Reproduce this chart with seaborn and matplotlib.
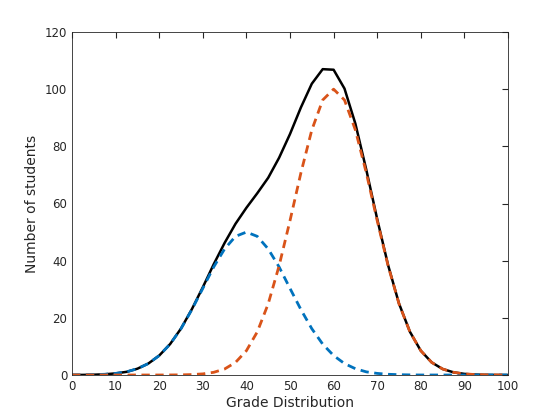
import numpy as np
import pandas as pd
import seaborn as sns
import matplotlib
matplotlib.use("Agg")
import matplotlib.pyplot as plt

grades = [i * 2.5 for i in range(41)]
group_a = [0.02, 0.04, 0.11, 0.25, 0.56, 1.1, 2.2, 4.0, 6.8, 10.8, 16.2, 22.9, 30.3, 37.8, 44.1, 48.5,
           50, 48.5, 44.1, 37.8, 30.3, 22.9, 16.2, 10.8, 6.8, 4.0, 2.2, 1.1, 0.56, 0.25, 0.11, 0.04,
           0, 0, 0, 0, 0, 0, 0, 0, 0]
group_b = [0, 0, 0, 0, 0, 0, 0, 0, 0, 0.015, 0.05, 0.15, 0.39, 0.94, 2.1, 4.4, 8.5, 15.1, 24.9, 38.2, 54.0,
           70.7, 85.7, 96.2, 100, 96.2, 85.7, 70.7, 54.0, 38.2, 24.9, 15.1, 8.5, 4.4, 2.1, 0.94, 0.39,
           0.15, 0.05, 0.015, 0]

df = pd.DataFrame({"x": grades, "a": group_a, "b": group_b})
df["total"] = df["a"] + df["b"]

sns.set_style("white")
plt.rcParams['font.family'] = ['DejaVu Sans']
fig = plt.figure(figsize=(5.6, 4.2), dpi=100)
ax = fig.add_axes([72/560, 45/420, 436/560, 343/420])
kw = dict(solid_joinstyle="round", dash_joinstyle="round", antialiased=True)
sns.lineplot(data=df, x="x", y="total", color="black", lw=1.8, ax=ax, **kw)
sns.lineplot(data=df, x="x", y="a", color="#0072BD", lw=2.0, ls=(0, (3, 2)), ax=ax, **kw)
sns.lineplot(data=df, x="x", y="b", color="#D95319", lw=2.0, ls=(0, (3, 2)), ax=ax, **kw)
ax.set_xlim(0, 100)
ax.set_ylim(0, 120)
ax.set_xticks(range(0, 101, 10))
ax.set_yticks(range(0, 121, 20))
ax.set_xlabel("Grade Distribution", fontsize=10, labelpad=2)
ax.set_ylabel("Number of students", fontsize=10)
ax.tick_params(direction="in", length=4, labelsize=8.5, top=True, right=True, color="#262626")
for s in ax.spines.values():
    s.set_color("#262626")
    s.set_linewidth(0.6)
fig.savefig("out.png", dpi=100)
